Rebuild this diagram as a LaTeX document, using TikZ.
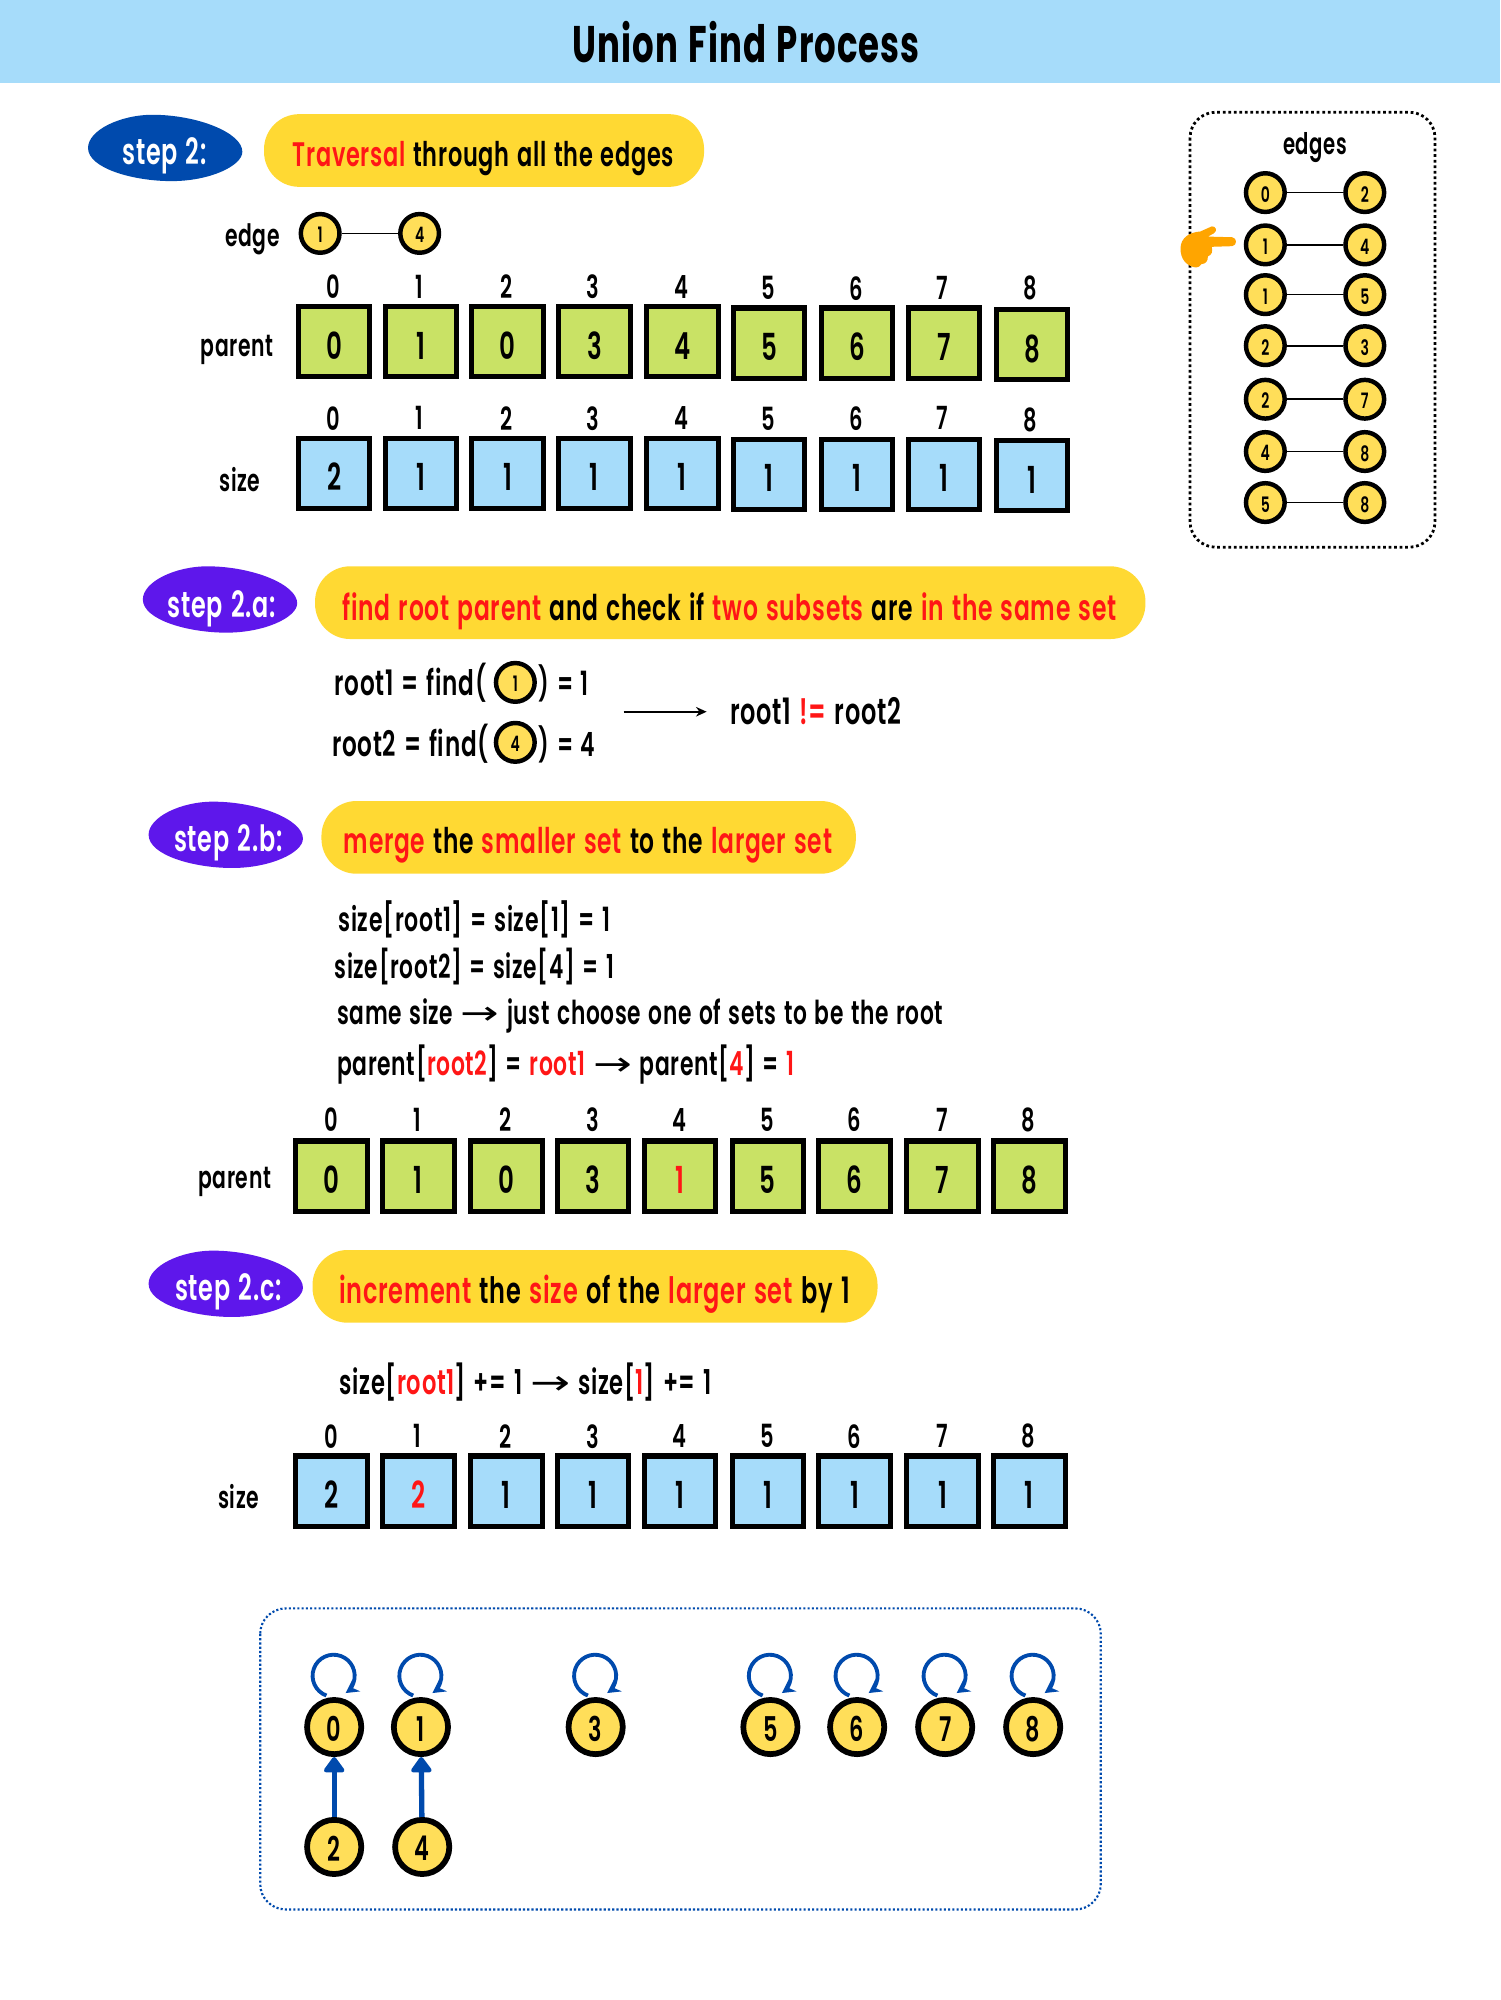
\documentclass[tikz,border=0pt]{standalone}
\usepackage{fontspec}
\usetikzlibrary{arrows.meta}
\newfontfamily\hand{Poppins}[FakeStretch=0.66,LetterSpace=2,WordSpace=1.3,UprightFont=* SemiBold,BoldFont=* Bold]
\newfontfamily\arrfont{DejaVu Sans}[FakeStretch=1.4]
\definecolor{skyb}{HTML}{A6DCFA}
\definecolor{lime}{HTML}{C9E265}
\definecolor{yel}{HTML}{FFD933}
\definecolor{nodey}{HTML}{FFDE59}
\definecolor{navy}{HTML}{004AAD}
\definecolor{viol}{HTML}{5E17EB}
\definecolor{rd}{HTML}{FF1616}
\definecolor{orng}{HTML}{FFA500}
\newcommand\fz[1]{\hand\fontsize{#1}{#1}\selectfont}
\newcommand\rr[1]{\textcolor{rd}{#1}}
\newcommand\ar{{\arrfont →}}
\newcommand\low[1]{\raisebox{-1.8pt}[\height][0pt]{#1}}
\newcommand\lowb[1]{\raisebox{-0.8pt}[\height][0pt]{#1}}
\tikzset{
  x=0.6pt,y=-0.6pt,
  cellbox/.style={draw=black,line width=2.4pt,minimum width=33.6pt,minimum height=33pt,inner sep=0pt,font=\fz{17.5pt}},
  pcell/.style={cellbox,fill=lime},
  scell/.style={cellbox,fill=skyb},
  idx/.style={inner sep=0pt,font=\fz{15pt}},
  lbl/.style={inner sep=0pt,font=\fz{14.5pt}},
  txt/.style={inner sep=0pt,anchor=base west,font=\fz{15.7pt}},
  head/.style={inner sep=0pt,font=\fz{16pt}},
  blobtxt/.style={inner sep=0pt,text=white,font=\fz{17pt}},
  pillbox/.style={fill=yel,rounded corners=16.5pt,inner sep=0pt},
  smallnode/.style={circle,draw=black,fill=nodey,line width=2.1pt,minimum size=18.2pt,inner sep=0pt,font=\fz{10pt}},
  bignode/.style={circle,draw=black,fill=nodey,line width=2.7pt,minimum size=25.5pt,inner sep=0pt,font=\fz{16pt}},
  thinedge/.style={draw=black,line width=.8pt},
  selfloop/.style={draw=navy,line width=1.8pt,-{Stealth[length=6pt,width=6.5pt]}},
  parentedge/.style={draw=navy,line width=2.5pt,-{Triangle[length=8pt,width=11pt,round]}},
}
\newcommand\blob[3]{% cx cy colour
  \fill[#3] ({#1-60.5},{#2}) .. controls ({#1-60.5},{#2-14}) and ({#1-35},{#2-26}) .. ({#1-10},{#2-26})
   .. controls ({#1+25},{#2-26}) and ({#1+60.5},{#2-12}) .. ({#1+60.5},{#2+3})
   .. controls ({#1+60.5},{#2+14}) and ({#1+35},{#2+26}) .. ({#1+5},{#2+26})
   .. controls ({#1-25},{#2+26}) and ({#1-60.5},{#2+16}) .. ({#1-60.5},{#2}) -- cycle;
}
\begin{document}
\begin{tikzpicture}
\useasboundingbox (0,0) rectangle (1176,1568);
\fill[white] (0,0) rectangle (1176,1568);
\fill[skyb] (0,0) rectangle (1176,65);
\node[inner sep=0pt,font=\fz{24.2pt}\bfseries] (title) at (585,33) {Union Find Process};

% step 2
\blob{129.5}{116}{navy}
\node[blobtxt] (s2) at (129,122) {step 2:};
\node[pillbox,minimum width=207pt,minimum height=34.2pt] (p2) at (379.5,118) {};
\node[head] (p2t) at (379,124) {\rr{Traversal} through all the edges};

\node[lbl] (edgelbl) at (198,188) {edge};
\node[smallnode] (e1) at (251,183) {\lowb{1}};
\node[smallnode] (e4) at (329,183) {\lowb{4}};
\draw[thinedge] (e1) -- (e4);

% parent 1
\node[lbl] (parentA) at (186,274) {parent};
\foreach \i/\x/\v/\yy/\iy in {0/262/0/268/225,1/330/1/268/225,2/398/0/268/225,3/466/3/268/225,4/535/4/268/225,5/603/5/269/226,6/672/6/269/226,7/740/7/269/226,8/809/8/270/226}{
  \node[pcell] (pa\i) at (\x,\yy) {\low{\v}};
  \node[idx] (ia\i) at ({\x-1},\iy) {\i};
}
% size 1
\node[lbl] (sizeA) at (188,376) {size};
\foreach \i/\x/\v/\yy/\iy in {0/262/2/371/328,1/330/1/371/328,2/398/1/371/328,3/466/1/371/328,4/535/1/371/328,5/603/1/372/328,6/672/1/372/328,7/740/1/372/328,8/809/1/373/329}{
  \node[scell] (sa\i) at (\x,\yy) {\low{\v}};
  \node[idx] (ja\i) at ({\x-1},\iy) {\i};
}

% edges panel
\draw[black,line width=1.3pt,dash pattern=on 1.3pt off 1.3pt,rounded corners=12pt] (933,88) rectangle (1125,429);
\node[inner sep=0pt,font=\fz{14pt}] (edgest) at (1031,116) {edges};
\foreach \n/\a/\b/\yy in {1/0/2/151,2/1/4/192,3/1/5/231,4/2/3/271,5/2/7/313,6/4/8/354,7/5/8/394}{
  \node[smallnode] (l\n) at (992,\yy) {\lowb{\a}};
  \node[smallnode] (r\n) at (1070,\yy) {\lowb{\b}};
  \draw[thinedge] (l\n) -- (r\n);
}
% pointing hand
\fill[orng] (925.5,195) .. controls (925.5,186) and (933,182) .. (941,181.5) -- (950,177.5) .. controls (953,177) and (955,181) .. (951.5,183) -- (947,185.5) -- (966,186) .. controls (970,186.5) and (970,192.5) .. (966,193) -- (950,193.5) .. controls (951,197) and (950,200) .. (947,201) .. controls (947,205) and (945,207) .. (942,207) .. controls (941,209) and (939,210) .. (936,209.5) .. controls (930,208) and (925.5,203) .. (925.5,195) -- cycle;

% step 2.a
\blob{172.5}{470}{viol}
\node[blobtxt] (s2a) at (174,477) {step 2.a:};
\node[pillbox,minimum width=390.6pt,minimum height=34.2pt] (p2a) at (572.5,472.5) {};
\node[head,font=\fz{16.7pt}] (p2at) at (572,479) {\rr{find root parent} and check if \rr{two subsets} are \rr{in the same set}};

\node[txt,font=\fz{16.5pt}] (r1a) at (262,545) {root1 = find(};
\node[smallnode] (r1n) at (404,535) {\lowb{1}};
\node[txt] (r1b) at (422,545) {) = 1};
\node[txt,font=\fz{16.5pt}] (r2a) at (260,593) {root2 = find(};
\node[smallnode] (r2n) at (404,582) {\lowb{4}};
\node[txt] (r2b) at (422,593) {) = 4};
\coordinate (arrA) at (489,558);
\coordinate (arrB) at (554,558);
\draw[black,line width=1pt,-{Stealth[length=5pt,width=4.5pt]}] (arrA) -- (arrB);
\node[txt,font=\fz{17.1pt}] (neq) at (572,568) {root1 \rr{!=} root2};

% step 2.b
\blob{177}{654.5}{viol}
\node[blobtxt] (s2b) at (179,661) {step 2.b:};
\node[pillbox,minimum width=251.4pt,minimum height=34.2pt] (p2b) at (461.5,656.5) {};
\node[head,font=\fz{16.65pt}] (p2bt) at (461,663) {\rr{merge} the \rr{smaller set} to the \rr{larger set}};
\node[txt] (l1) at (265,730) {size[root1] = size[1] = 1};
\node[txt,font=\fz{15.5pt}] (l2) at (262,767) {size[root2] = size[4] = 1};
\node[txt,font=\fz{15.5pt}] (l3) at (264,803) {same size \ar{} just choose one of sets to be the root};
\node[txt,font=\fz{15.6pt}] (l4) at (264,843) {parent[\rr{root2}] = \rr{root1} \ar{} parent[\rr{4}] = \rr{1}};

% parent 2
\node[lbl] (parentB) at (184,927) {parent};
\foreach \i/\x/\v in {0/260/0,1/328/1,2/397/0,3/465/3,4/533/\rr{1},5/602/5,6/670/6,7/739/7,8/807/8}{
  \node[pcell] (pb\i) at (\x,922) {\low{\v}};
  \node[idx] (ib\i) at ({\x-0.5},878) {\i};
}

% step 2.c
\blob{177}{1006.5}{viol}
\node[blobtxt] (s2c) at (179,1013) {step 2.c:};
\node[pillbox,minimum width=265.8pt,minimum height=34.2pt] (p2c) at (466.5,1008.5) {};
\node[head,font=\fz{17.1pt}] (p2ct) at (466,1015) {\rr{increment} the \rr{size} of the \rr{larger set} by 1};
\node[txt,font=\fz{16.1pt}] (l5) at (266,1093) {size[\rr{root1}] += 1 \ar{} size[\rr{1}] += 1};

% size 2
\node[lbl] (sizeB) at (187,1173) {size};
\foreach \i/\x/\v in {0/260/2,1/328/\rr{2},2/397/1,3/465/1,4/533/1,5/602/1,6/670/1,7/739/1,8/807/1}{
  \node[scell] (sb\i) at (\x,1169) {\low{\v}};
  \node[idx] (jb\i) at ({\x-0.5},1126) {\i};
}

% forest panel
\draw[navy,line width=1pt,dash pattern=on 1pt off 1pt,rounded corners=12pt] (204,1261) rectangle (863,1497);
\foreach \i/\x in {0/262,1/330,3/467,5/604,6/672,7/741,8/810}{
  \node[bignode] (n\i) at (\x,1354) {\lowb{\i}};
  \draw[selfloop] ([yshift=1.2pt]n\i.105) arc[start angle=250,delta angle=-305,radius=9.9pt];
}
\node[bignode] (n2) at (262,1448) {\lowb{2}};
\node[bignode] (n4) at (331,1448) {\lowb{4}};
\draw[parentedge] (n2) -- (n0);
\draw[parentedge] (n4) -- (n1);
\end{tikzpicture}
\end{document}
